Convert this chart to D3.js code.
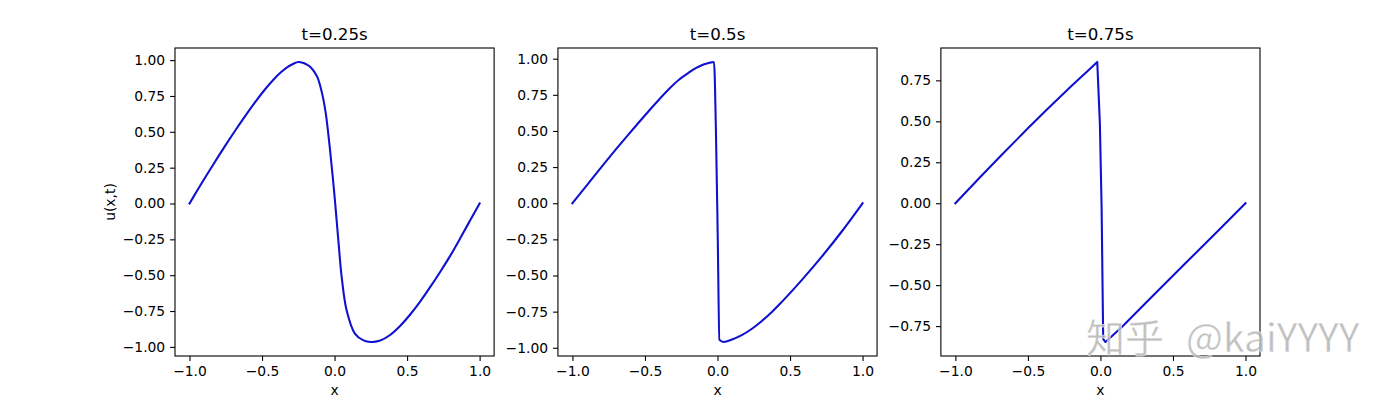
<!DOCTYPE html>
<html>
<head>
<meta charset="utf-8">
<script src="https://cdn.jsdelivr.net/npm/d3@7"></script>
<style>
  html, body { margin: 0; padding: 0; background: #fff; }
  svg { display: block; }
</style>
</head>
<body>
<svg id="chart" width="1400" height="400"></svg>
<script>
// ---- data ----
const titles = ["t=0.25s", "t=0.5s", "t=0.75s"];

const x025 = [-1.0, -0.95, -0.89, -0.82, -0.75, -0.68, -0.62, -0.55, -0.48, -0.42, -0.37, -0.32, -0.28, -0.25, -0.22, -0.19, -0.16, -0.12, -0.10, -0.08, -0.06, -0.031, 0.0, 0.026, 0.049, 0.083, 0.14, 0.2, 0.25, 0.31, 0.38, 0.45, 0.52, 0.59, 0.66, 0.73, 0.80, 0.87, 0.935, 1.0];
const u025 = [0.0, 0.085, 0.185, 0.298, 0.409, 0.516, 0.604, 0.703, 0.795, 0.865, 0.915, 0.955, 0.977, 0.987, 0.982, 0.968, 0.945, 0.885, 0.825, 0.74, 0.625, 0.372, 0.05, -0.256, -0.512, -0.745, -0.907, -0.955, -0.966, -0.958, -0.919, -0.856, -0.776, -0.684, -0.582, -0.474, -0.36, -0.236, -0.117, 0.0];

const x050 = [-1.0, -0.89, -0.753, -0.616, -0.478, -0.341, -0.27, -0.204, -0.15, -0.112, -0.08, -0.055, -0.024, -0.011, 0.002, 0.013, 0.042, 0.1, 0.167, 0.235, 0.304, 0.373, 0.442, 0.579, 0.716, 0.854, 1.0];
const u050 = [0.0, 0.138, 0.309, 0.473, 0.633, 0.784, 0.851, 0.899, 0.934, 0.953, 0.965, 0.972, 0.977, 0.507, -0.254, -0.945, -0.96, -0.943, -0.913, -0.870, -0.816, -0.754, -0.684, -0.534, -0.373, -0.199, 0.0];

const x075 = [-1.0, -0.83, -0.67, -0.5, -0.36, -0.2, -0.09, -0.022, -0.004, 0.008, 0.019, 0.035, 0.146, 0.353, 0.582, 0.82, 1.0];
const u075 = [0.0, 0.158, 0.305, 0.457, 0.58, 0.716, 0.806, 0.862, 0.488, -0.021, -0.829, -0.847, -0.757, -0.573, -0.37, -0.16, 0.0];

const xTicks = [-1.0, -0.5, 0.0, 0.5, 1.0];
const yTicksA = [-1.0, -0.75, -0.5, -0.25, 0.0, 0.25, 0.5, 0.75, 1.0];
const yTicksB = [-0.75, -0.5, -0.25, 0.0, 0.25, 0.5, 0.75];

const xLabel = "x";
const yLabel = "u(x,t)";
const watermarkA = "知乎";
const watermarkB = "@kaiYYYY";

// ---- layout ----
const W = 1400, H = 400;
const figLeft = 0.125 * W, figRight = 0.9 * W;
const axTop = 0.12 * H, axBottom = 0.89 * H;
const axW = (figRight - figLeft) / (3 + 2 * 0.2);
const gap = 0.2 * axW;
const font = "'DejaVu Sans', sans-serif";
const tickFs = 13.89, titleFs = 16.67;
const lineColor = "#1010d0";

const svg = d3.select("#chart");
svg.append("rect").attr("width", W).attr("height", H).attr("fill", "#fff");

const panels = [
  { xs: x025, us: u025, yt: yTicksA, curve: d3.curveCatmullRom.alpha(0.5) },
  { xs: x050, us: u050, yt: yTicksA, curve: d3.curveMonotoneX },
  { xs: x075, us: u075, yt: yTicksB, curve: d3.curveLinear }
];

const fmtY = d3.format(".2f");
const fmtX = d3.format(".1f");

panels.forEach((p, i) => {
  const left = figLeft + i * (axW + gap);
  const g = svg.append("g").attr("transform", `translate(${left},${axTop})`);
  const h = axBottom - axTop;

  const x = d3.scaleLinear().domain([-1.1, 1.1]).range([0, axW]);
  const ymin = d3.min(p.us), ymax = d3.max(p.us), r = ymax - ymin;
  const y = d3.scaleLinear().domain([ymin - 0.05 * r, ymax + 0.05 * r]).range([h, 0]);

  const xAxis = d3.axisBottom(x).tickValues(xTicks).tickFormat(fmtX).tickSizeInner(4.9).tickSizeOuter(0).tickPadding(4.9);
  const yAxis = d3.axisLeft(y).tickValues(p.yt).tickFormat(fmtY).tickSizeInner(4.9).tickSizeOuter(0).tickPadding(4.9);

  const gx = g.append("g").attr("transform", `translate(0,${h})`).call(xAxis);
  const gy = g.append("g").call(yAxis);
  [gx, gy].forEach(a => {
    a.select(".domain").remove();
    a.selectAll(".tick line").attr("stroke", "#000").attr("stroke-width", 1.1);
    a.selectAll(".tick text").attr("fill", "#000").style("font-family", font).style("font-size", tickFs + "px");
  });

  const line = d3.line().x((d, k) => x(p.xs[k])).y(d => y(d)).curve(p.curve);
  g.append("path").datum(p.us).attr("d", line)
    .attr("fill", "none").attr("stroke", lineColor).attr("stroke-width", 2.08)
    .attr("stroke-linejoin", "round").attr("stroke-linecap", "square");

  g.append("rect").attr("width", axW).attr("height", h)
    .attr("fill", "none").attr("stroke", "#000").attr("stroke-width", 1.1);

  g.append("text").attr("x", axW / 2).attr("y", -8.3).attr("text-anchor", "middle")
    .style("font-family", font).style("font-size", titleFs + "px").attr("fill", "#000")
    .text(titles[i]);

  g.append("text").attr("x", axW / 2).attr("y", h + 39).attr("text-anchor", "middle")
    .style("font-family", font).style("font-size", tickFs + "px").attr("fill", "#000")
    .text(xLabel);

  if (i === 0) {
    g.append("text").attr("transform", `translate(${-60},${h / 2}) rotate(-90)`)
      .attr("text-anchor", "middle")
      .style("font-family", font).style("font-size", tickFs + "px").attr("fill", "#000")
      .text(yLabel);
  }
});

const wm = svg.append("text").attr("x", 1086).attr("y", 352)
  .style("font-family", "'Noto Sans CJK SC', sans-serif").style("font-size", "39px")
  .attr("fill", "#b4b4b4").attr("fill-opacity", 0.85)
  .attr("stroke", "#fff").attr("stroke-width", 0.8).attr("stroke-opacity", 0.6);
wm.append("tspan").text(watermarkA);
wm.append("tspan").attr("dx", 22).text(watermarkB);
</script>
</body>
</html>
